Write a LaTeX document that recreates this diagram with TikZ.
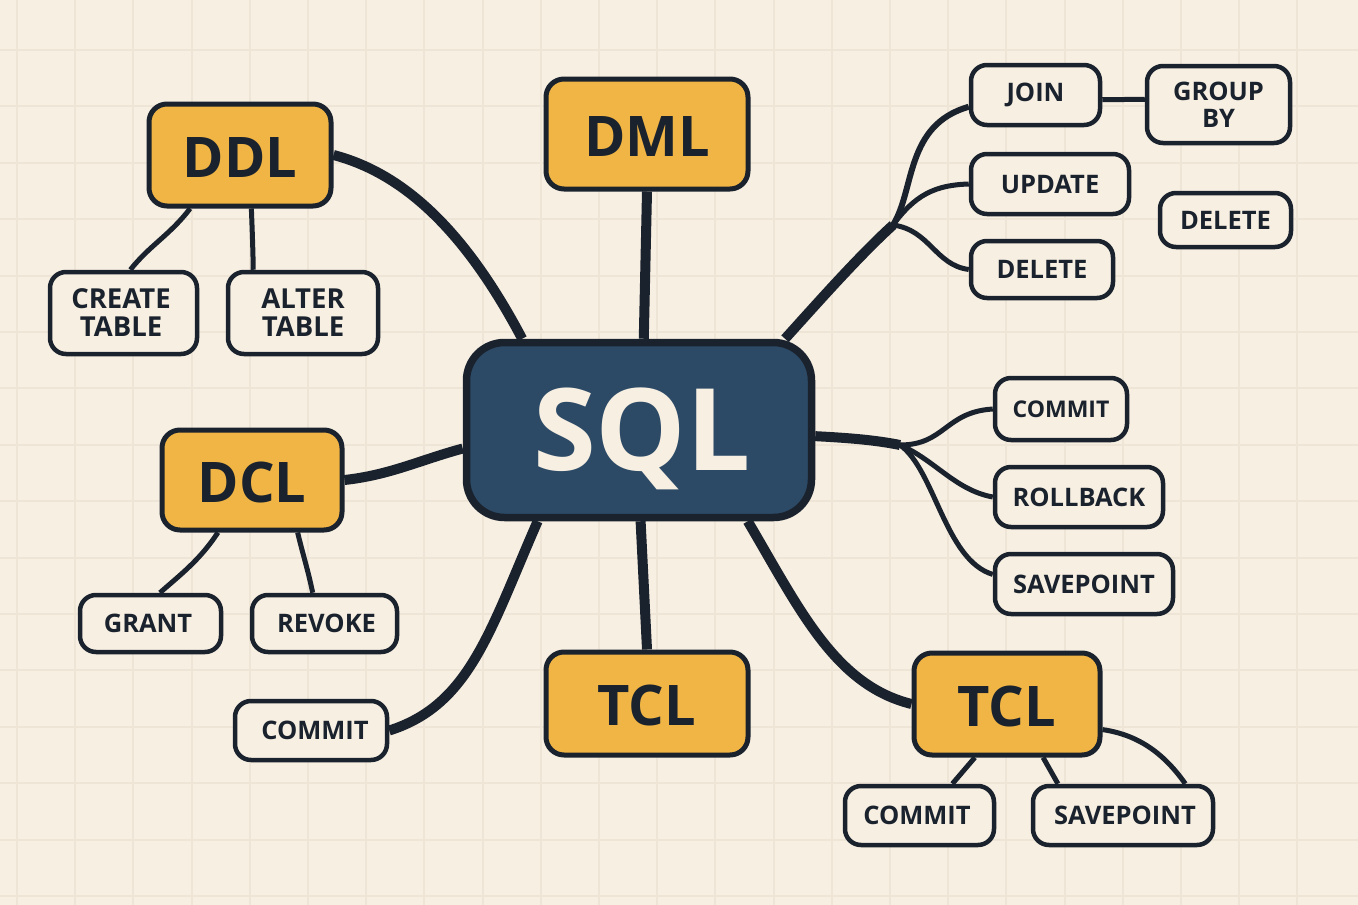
\documentclass[tikz,border=0pt]{standalone}
\usepackage{fontspec}
\setmainfont{Open Sans}
\usetikzlibrary{backgrounds}
\definecolor{paper-bg}{HTML}{F7EFE2}
\definecolor{paper-grid}{HTML}{EFE5D7}
\definecolor{ink}{HTML}{1A222D}
\definecolor{topic-yellow}{HTML}{F1B545}
\definecolor{sql-blue}{HTML}{2C4A66}
\tikzset{
	sqlbox/.style={draw=ink,fill=sql-blue,line width=7.5pt,rounded corners=38pt,text=paper-bg,text height=80pt,text depth=0pt,font=\fontsize{114}{114}\selectfont\bfseries},
	topicbox/.style={draw=ink,fill=topic-yellow,line width=5pt,rounded corners=18pt,text=ink,text height=44pt,text depth=0pt,font=\fontsize{56}{56}\selectfont\bfseries},
	leafbox/.style={draw=ink,fill=paper-bg,line width=4.5pt,rounded corners=16pt,text=ink,align=center,font=\fontsize{25.5}{27}\selectfont\bfseries},
	trunk/.style={draw=ink,line width=10pt},
	twig/.style={draw=ink,line width=5pt},
}

\begin{document}
\begin{tikzpicture}[x=1pt,y=-1pt]
	\useasboundingbox (0,0) rectangle (1358,905);

	\node [sqlbox,minimum width=345,minimum height=175] (sql) at (639,430) {\hspace{6pt}SQL};

	\node [topicbox,minimum width=182,minimum height=102] (ddl) at (240,155) {DDL};
	\node [topicbox,minimum width=202,minimum height=110] (dml) at (647,134) {DML};
	\node [topicbox,minimum width=180,minimum height=100] (dcl) at (252,480) {DCL};
	\node [topicbox,minimum width=202,minimum height=103] (tclmid) at (647,703.5) {TCL};
	\node [topicbox,minimum width=186,minimum height=102] (tclright) at (1007,704) {TCL};

	\node [leafbox,minimum width=147,minimum height=82,font=\fontsize{27.5}{28}\selectfont\bfseries] (create) at (123.5,313) {\hspace{-5pt}CREATE\\\hspace{-5pt}TABLE};
	\node [leafbox,minimum width=150,minimum height=82,font=\fontsize{27.5}{28}\selectfont\bfseries] (alter) at (303,313) {ALTER\\TABLE};
	\node [leafbox,minimum width=141,minimum height=57] (grant) at (150.5,623.5) {\hspace{-5pt}GRANT};
	\node [leafbox,minimum width=145,minimum height=57] (revoke) at (324.5,623.5) {\hspace{4pt}REVOKE};
	\node [leafbox,minimum width=152,minimum height=59] (commitleft) at (311,730.5) {\hspace{8pt}COMMIT};
	\node [leafbox,minimum width=149,minimum height=59] (commitlow) at (919.5,815.5) {\hspace{-5pt}COMMIT};
	\node [leafbox,minimum width=180,minimum height=59] (savelow) at (1123,815.5) {\hspace{4pt}SAVEPOINT};
	\node [leafbox,minimum width=129,minimum height=60] (join) at (1035.5,95) {JOIN};
	\node [leafbox,minimum width=143,minimum height=77] (groupby) at (1218.5,104.5) {GROUP\\BY};
	\node [leafbox,minimum width=158,minimum height=60] (update) at (1050,184) {UPDATE};
	\node [leafbox,minimum width=142,minimum height=57] (delete) at (1042,269.5) {DELETE};
	\node [leafbox,minimum width=131,minimum height=54] (deleteright) at (1225.5,220) {DELETE};
	\node [leafbox,minimum width=132,minimum height=62,font=\fontsize{23}{25}\selectfont\bfseries] (commitright) at (1061,409) {COMMIT};
	\node [leafbox,minimum width=168,minimum height=60] (rollback) at (1079,497) {ROLLBACK};
	\node [leafbox,minimum width=178,minimum height=60] (saveright) at (1084,584) {SAVEPOINT};

	\coordinate (topfork) at (893,225);
	\coordinate (midfork) at (900,445);

	\begin{scope}[on background layer]
		\fill [paper-bg] (0,0) rectangle (1358,905);
		\foreach \x in {0,...,22}
			{\draw [paper-grid,line width=2pt] (17+58.2*\x,0) -- (17+58.2*\x,905);}
		\foreach \y in {0,...,15}
			{\draw [paper-grid,line width=2pt] (0,50+56.4*\y) -- (1358,50+56.4*\y);}

		\draw [trunk] (sql.142) .. controls (470,240) and (410,175) .. (ddl.east);
		\draw [trunk] (sql.87) -- (dml.south);
		\draw [trunk] (sql.32) .. controls (820,300) and (860,255) .. (topfork);
		\draw [trunk] (sql.-2) .. controls (850,438) and (875,440) .. (midfork);
		\draw [trunk] (sql.186) .. controls (420,460) and (390,475) .. (dcl.east);
		\draw [trunk] (sql.222) .. controls (490,630) and (470,705) .. (commitleft.east);
		\draw [trunk] (sql.-89) -- (tclmid.north);
		\draw [trunk] (sql.-40) .. controls (800,610) and (835,685) .. (tclright.west);

		\draw [twig] (ddl.227) .. controls (170,235) and (150,245) .. (create.81);
		\draw [twig] (ddl.-78) .. controls (252,225) and (253,250) .. (alter.139);
		\draw [twig] (dcl.237) .. controls (200,560) and (180,575) .. (grant.73);
		\draw [twig] (dcl.-49) .. controls (303,555) and (308,570) .. (revoke.111);
		\draw [twig] (tclright.239) -- (commitlow.44);
		\draw [twig] (tclright.-56) -- (savelow.154);
		\draw [twig] (tclright.-15) .. controls (1140,735) and (1165,755) .. (savelow.27);

		\draw [twig,line width=6pt] (topfork) .. controls (915,190) and (905,125) .. (join.190);
		\draw [twig] (topfork) .. controls (915,195) and (935,185) .. (update.west);
		\draw [twig] (topfork) .. controls (930,230) and (935,265) .. (delete.west);
		\draw [twig] (join.-4) -- (groupby.176);
		\draw [twig] (midfork) .. controls (945,445) and (945,412) .. (commitright.west);
		\draw [twig] (midfork) .. controls (935,460) and (955,490) .. (rollback.west);
		\draw [twig] (midfork) .. controls (935,470) and (945,560) .. (saveright.174);
	\end{scope}
\end{tikzpicture}
\end{document}
